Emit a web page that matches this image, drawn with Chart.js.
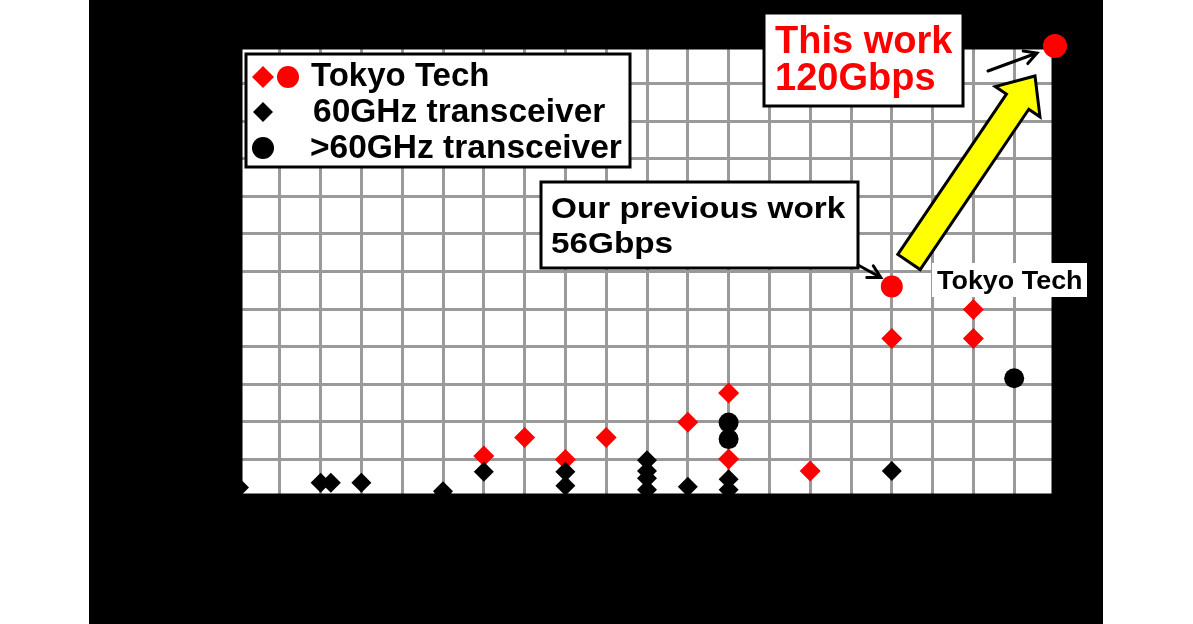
<!DOCTYPE html>
<html>
<head>
<meta charset="utf-8">
<script src="https://cdn.jsdelivr.net/npm/chart.js@4.4.1/dist/chart.umd.min.js"></script>
<style>
html, body { margin: 0; padding: 0; background: #fff; }
#wrap { position: relative; width: 1193px; height: 624px; }
</style>
</head>
<body>
<div id="wrap"><canvas id="chart"></canvas></div>
<script>
// axe X : années (pas de 0,5) / axe Y : débit en Gbps
const xMin = 2007, xMax = 2017, xStep = 0.5;
const yMin = 0, yMax = 120, yStep = 10;

const seriesNames = ['Tokyo Tech', '60GHz transceiver', '>60GHz transceiver'];

// Tokyo Tech, losanges rouges
const tokyoDiamondX = [2010, 2010.5, 2011, 2011.5, 2012.5, 2013, 2013, 2014, 2015, 2016, 2016];
const tokyoDiamondY = [10.9, 15.8, 10.0, 15.8, 19.9, 27.7, 10.1, 6.9, 42.2, 49.9, 42.2];
// Tokyo Tech, cercles rouges (56Gbps, 120Gbps)
const tokyoCircleX = [2015, 2017];
const tokyoCircleY = [56, 120];
// 60GHz transceiver
const ghz60X = [2007, 2008, 2008.125, 2008.5, 2009.5, 2009.5, 2010, 2011, 2011, 2012, 2012, 2012, 2012, 2012.5, 2013, 2013, 2015];
const ghz60Y = [2.5, 3.8, 3.8, 3.8, 1.5, 0.5, 6.7, 6.7, 3.0, 9.8, 6.9, 5.0, 1.9, 2.7, 4.7, 1.9, 6.9];
// >60GHz transceiver
const ghzOverX = [2013, 2013, 2016.5];
const ghzOverY = [19.8, 15.4, 31.6];

const RED = '#ff0000';
const FONT = '"Liberation Sans", Arial, sans-serif';

const toPoints = (xs, ys) => xs.map((x, i) => ({ x: x, y: ys[i] }));

// petits outils de dessin
function diamond(ctx, x, y, r, color) {
ctx.fillStyle = color;
ctx.beginPath();
ctx.moveTo(x - r, y);
ctx.lineTo(x, y - r);
ctx.lineTo(x + r, y);
ctx.lineTo(x, y + r);
ctx.closePath();
ctx.fill();
}

function dot(ctx, x, y, r, color) {
ctx.fillStyle = color;
ctx.beginPath();
ctx.arc(x, y, r, 0, Math.PI * 2);
ctx.fill();
}

function box(ctx, x1, y1, x2, y2, border) {
ctx.fillStyle = '#fff';
ctx.fillRect(x1, y1, x2 - x1, y2 - y1);
if (border) {
ctx.strokeStyle = '#000';
ctx.lineWidth = 3;
ctx.strokeRect(x1, y1, x2 - x1, y2 - y1);
}
}

// texte un peu étiré en largeur (comme dans l'original)
function wideText(ctx, text, x, y, sx) {
ctx.save();
ctx.translate(x, y);
ctx.scale(sx, 1);
ctx.fillText(text, 0, 0);
ctx.restore();
}

function thinArrow(ctx, x1, y1, x2, y2) {
const a = Math.atan2(y2 - y1, x2 - x1);
const h = 14;
ctx.strokeStyle = '#000';
ctx.lineWidth = 3;
ctx.lineCap = 'round';
ctx.beginPath();
ctx.moveTo(x1, y1);
ctx.lineTo(x2, y2);
ctx.moveTo(x2 - h * Math.cos(a - 0.5), y2 - h * Math.sin(a - 0.5));
ctx.lineTo(x2, y2);
ctx.lineTo(x2 - h * Math.cos(a + 0.5), y2 - h * Math.sin(a + 0.5));
ctx.stroke();
}

function bigArrow(ctx, bx, by, tx, ty, shaftHalf, headHalf, headLen) {
const len = Math.hypot(tx - bx, ty - by);
const ux = (tx - bx) / len, uy = (ty - by) / len;
const nx = -uy, ny = ux;
const hx = tx - ux * headLen, hy = ty - uy * headLen;
ctx.fillStyle = '#ffff00';
ctx.strokeStyle = '#000';
ctx.lineWidth = 3;
ctx.lineJoin = 'miter';
ctx.beginPath();
ctx.moveTo(bx + nx * shaftHalf, by + ny * shaftHalf);
ctx.lineTo(hx + nx * shaftHalf, hy + ny * shaftHalf);
ctx.lineTo(hx + nx * headHalf, hy + ny * headHalf);
ctx.lineTo(tx, ty);
ctx.lineTo(hx - nx * headHalf, hy - ny * headHalf);
ctx.lineTo(hx - nx * shaftHalf, hy - ny * shaftHalf);
ctx.lineTo(bx - nx * shaftHalf, by - ny * shaftHalf);
ctx.closePath();
ctx.fill();
ctx.stroke();
}

// fond noir + zone du graphique blanche
const backgroundPlugin = {
id: 'background',
beforeDraw(chart) {
const ctx = chart.ctx;
const a = chart.chartArea;
ctx.save();
ctx.fillStyle = '#fff';
ctx.fillRect(0, 0, chart.width, chart.height);
ctx.fillStyle = '#000';
ctx.fillRect(89, 0, 1014, chart.height);
ctx.fillStyle = '#fff';
ctx.fillRect(a.left, a.top, a.right - a.left, a.bottom - a.top);
ctx.restore();
},
beforeDatasetsDraw(chart) {
const ctx = chart.ctx;
const a = chart.chartArea;
ctx.save();
ctx.strokeStyle = '#000';
ctx.lineWidth = 7;
ctx.strokeRect(a.left, a.top, a.right - a.left, a.bottom - a.top);
ctx.restore();
}
};

// légende + annotations
const overlayPlugin = {
id: 'overlay',
afterDraw(chart) {
const ctx = chart.ctx;
const xs = chart.scales.x, ys = chart.scales.y;
ctx.save();

// légende
box(ctx, 246, 54, 630, 167, true);
diamond(ctx, 263, 77, 11, RED);
dot(ctx, 288, 77, 11, RED);
diamond(ctx, 263, 112, 10, '#000');
dot(ctx, 263, 148, 11, '#000');
ctx.fillStyle = '#000';
ctx.font = 'bold 33px ' + FONT;
ctx.textBaseline = 'alphabetic';
ctx.fillText(seriesNames[0], 311, 86);
wideText(ctx, seriesNames[1], 313, 122, 1.015);
wideText(ctx, seriesNames[2], 310, 158, 1.015);

// "Our previous work"
box(ctx, 541, 182, 858, 268, true);
ctx.fillStyle = '#000';
ctx.font = 'bold 30px ' + FONT;
wideText(ctx, 'Our previous work', 551, 218, 1.11);
wideText(ctx, '56Gbps', 551, 253, 1.11);
const px = xs.getPixelForValue(tokyoCircleX[0]);
const py = ys.getPixelForValue(tokyoCircleY[0]);
thinArrow(ctx, 858, 265, px - 11, py - 9);

// grosse flèche jaune
bigArrow(ctx, 909, 262, 1035, 76, 13.5, 27, 31);

// "This work"
box(ctx, 764, 13, 963, 106, true);
ctx.fillStyle = RED;
ctx.font = 'bold 38px ' + FONT;
ctx.fillText('This work', 775, 53);
ctx.fillText('120Gbps', 775, 90);
const qx = xs.getPixelForValue(tokyoCircleX[1]);
const qy = ys.getPixelForValue(tokyoCircleY[1]);
thinArrow(ctx, 988, 71, qx - 18, qy + 7);

// étiquette "Tokyo Tech"
box(ctx, 932, 263, 1087, 297, false);
ctx.fillStyle = '#000';
ctx.font = 'bold 26px ' + FONT;
wideText(ctx, 'Tokyo Tech', 937, 289, 1.035);

ctx.restore();
}
};

const ctx = document.getElementById('chart').getContext('2d');
const chart = new Chart(ctx, {
type: 'scatter',
data: {
datasets: [
{
label: seriesNames[1],
data: toPoints(ghz60X, ghz60Y),
pointStyle: 'rectRot',
pointRadius: 10,
backgroundColor: '#000',
borderWidth: 0,
clip: false
},
{
label: seriesNames[2],
data: toPoints(ghzOverX, ghzOverY),
pointStyle: 'circle',
pointRadius: 10,
backgroundColor: '#000',
borderWidth: 0,
clip: false
},
{
label: seriesNames[0],
data: toPoints(tokyoDiamondX, tokyoDiamondY),
pointStyle: 'rectRot',
pointRadius: 10.5,
backgroundColor: RED,
borderWidth: 0,
clip: false
},
{
label: seriesNames[0],
data: toPoints(tokyoCircleX, tokyoCircleY),
pointStyle: 'circle',
pointRadius: [11, 12],
backgroundColor: RED,
borderWidth: 0,
clip: false
}
]
},
options: {
responsive: true,
maintainAspectRatio: false,
animation: false,
events: [],
layout: {
padding: { left: 239, right: 138, top: 46, bottom: 127 }
},
plugins: {
legend: { display: false },
tooltip: { enabled: false }
},
scales: {
x: {
type: 'linear',
min: xMin,
max: xMax,
ticks: { display: false, stepSize: xStep },
grid: { color: '#9a9a9a', lineWidth: 3, drawTicks: false },
border: { display: false }
},
y: {
min: yMin,
max: yMax,
ticks: { display: false, stepSize: yStep },
grid: { color: '#9a9a9a', lineWidth: 3, drawTicks: false },
border: { display: false }
}
}
},
plugins: [backgroundPlugin, overlayPlugin]
});
</script>
</body>
</html>
